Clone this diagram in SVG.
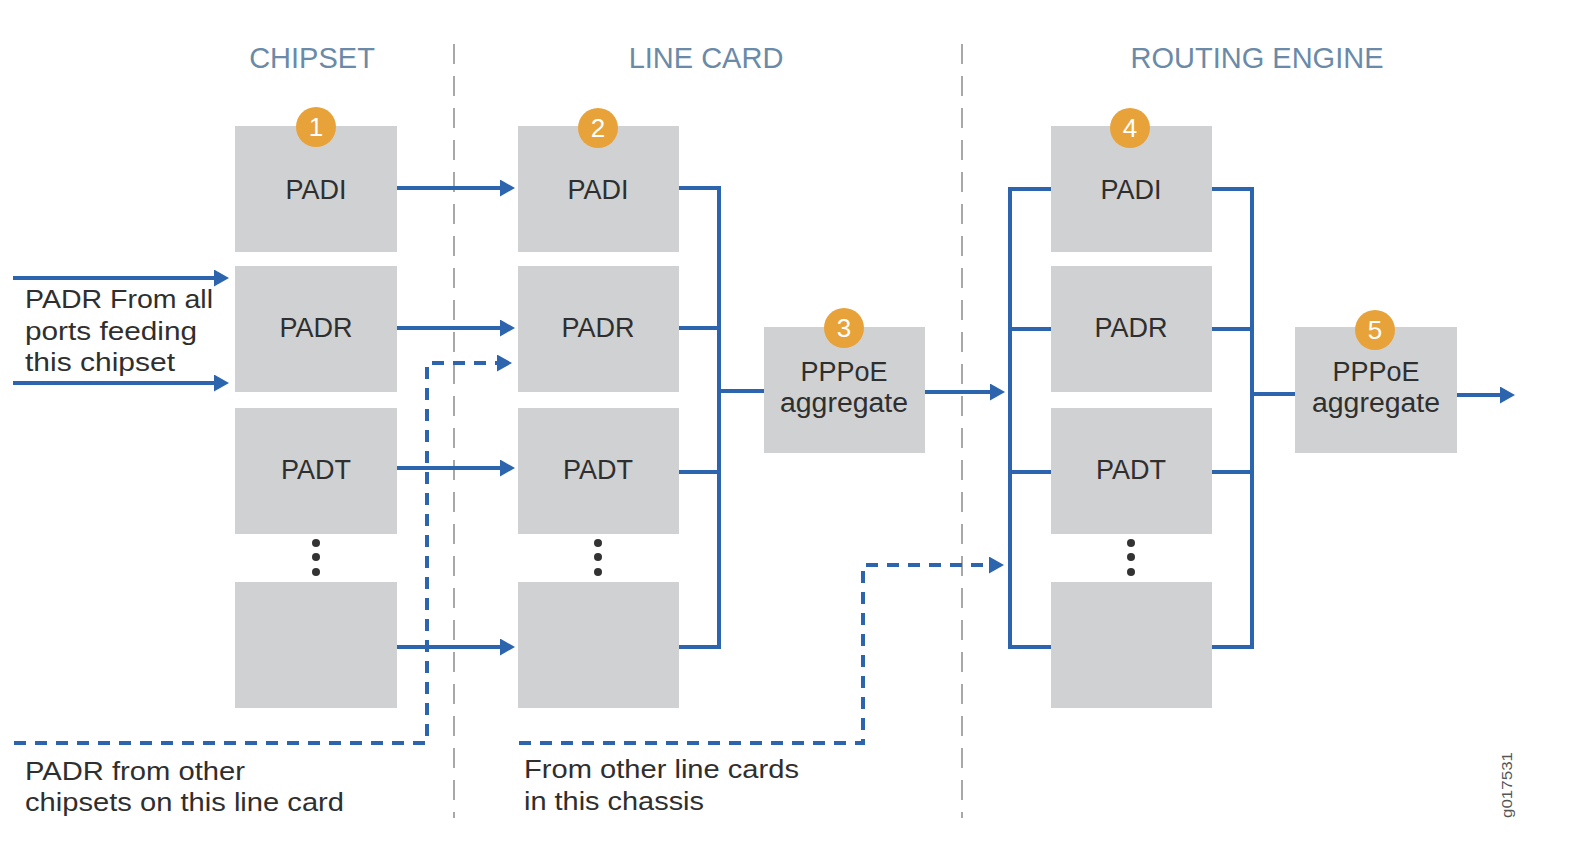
<svg xmlns="http://www.w3.org/2000/svg" width="1588" height="866" viewBox="0 0 1588 866">
<style>
.box{fill:#d0d1d3}
.lbl{font-family:"Liberation Sans",Arial,sans-serif;font-size:27px;fill:#2f2f2f;text-anchor:middle}
.hd{font-family:"Liberation Sans",Arial,sans-serif;font-size:29px;fill:#6a8aa8;text-anchor:middle}
.note{font-family:"Liberation Sans",Arial,sans-serif;font-size:26px;fill:#2f2f2f}
.badge{fill:#e8a23a}
.num{font-family:"Liberation Sans",Arial,sans-serif;font-size:26px;fill:#ffffff;text-anchor:middle}
.sep{stroke:#a8a8a8;stroke-width:2;stroke-dasharray:20 12;fill:none}
.ln{stroke:#2c65ae;stroke-width:4;fill:none}
.dot{stroke:#2c65ae;stroke-width:4;fill:none;stroke-dasharray:12 9}
.el{fill:#333}
</style>
<defs>
<marker id="ah" markerUnits="userSpaceOnUse" markerWidth="16" markerHeight="18" refX="5" refY="8.5" orient="auto">
<path d="M0,0 L15,8.5 L0,17 z" fill="#2c65ae"/>
</marker>
</defs>
<rect width="1588" height="866" fill="#ffffff"/>

<g id="separators">
<line class="sep" x1="454" y1="44" x2="454" y2="818"/>
<line class="sep" x1="962" y1="44" x2="962" y2="818"/>
</g>

<g id="headings">
<text class="hd" x="312" y="68">CHIPSET</text>
<text class="hd" x="706" y="68">LINE CARD</text>
<text class="hd" x="1257" y="68">ROUTING ENGINE</text>
</g>

<g id="connectors">
<line class="ln" x1="13" y1="278" x2="219" y2="278" marker-end="url(#ah)"/>
<line class="ln" x1="13" y1="383" x2="219" y2="383" marker-end="url(#ah)"/>
<line class="ln" x1="397" y1="188" x2="505" y2="188" marker-end="url(#ah)"/>
<line class="ln" x1="397" y1="328" x2="505" y2="328" marker-end="url(#ah)"/>
<line class="ln" x1="397" y1="468" x2="505" y2="468" marker-end="url(#ah)"/>
<line class="ln" x1="397" y1="647" x2="505" y2="647" marker-end="url(#ah)"/>
<path class="dot" d="M14,743 H427 V363 H502" marker-end="url(#ah)"/>
<path class="ln" d="M679,188 H719 V647 H679 M679,328 H719 M679,472 H719 M719,391 H764"/>
<line class="ln" x1="925" y1="392" x2="995" y2="392" marker-end="url(#ah)"/>
<path class="dot" d="M519,743 H863 V565 H994" marker-end="url(#ah)"/>
<path class="ln" d="M1051,189 H1010 V647 H1051 M1010,329 H1051 M1010,472 H1051"/>
<path class="ln" d="M1212,189 H1252 V647 H1212 M1212,329 H1252 M1212,472 H1252 M1252,394 H1295"/>
<line class="ln" x1="1457" y1="395" x2="1505" y2="395" marker-end="url(#ah)"/>
</g>

<g id="chipset-padi">
<rect class="box" x="235" y="126" width="162" height="126"/>
<text class="lbl" x="316" y="199">PADI</text>
<circle class="badge" cx="316" cy="127" r="20"/>
<text class="num" x="316" y="136">1</text>
</g>
<g id="chipset-padr">
<rect class="box" x="235" y="266" width="162" height="126"/>
<text class="lbl" x="316" y="337">PADR</text>
</g>
<g id="chipset-padt">
<rect class="box" x="235" y="408" width="162" height="126"/>
<text class="lbl" x="316" y="479">PADT</text>
</g>
<g id="chipset-dots">
<circle class="el" cx="316" cy="543" r="4"/>
<circle class="el" cx="316" cy="557" r="4"/>
<circle class="el" cx="316" cy="572" r="4"/>
</g>
<g id="chipset-blank">
<rect class="box" x="235" y="582" width="162" height="126"/>
</g>

<g id="lc-padi">
<rect class="box" x="518" y="126" width="161" height="126"/>
<text class="lbl" x="598" y="199">PADI</text>
<circle class="badge" cx="598" cy="128" r="20"/>
<text class="num" x="598" y="137">2</text>
</g>
<g id="lc-padr">
<rect class="box" x="518" y="266" width="161" height="126"/>
<text class="lbl" x="598" y="337">PADR</text>
</g>
<g id="lc-padt">
<rect class="box" x="518" y="408" width="161" height="126"/>
<text class="lbl" x="598" y="479">PADT</text>
</g>
<g id="lc-dots">
<circle class="el" cx="598" cy="543" r="4"/>
<circle class="el" cx="598" cy="557" r="4"/>
<circle class="el" cx="598" cy="572" r="4"/>
</g>
<g id="lc-blank">
<rect class="box" x="518" y="582" width="161" height="126"/>
</g>

<g id="lc-aggregate">
<rect class="box" x="764" y="327" width="161" height="126"/>
<text class="lbl" x="844" y="381">PPPoE</text>
<text class="lbl" x="844" y="412" textLength="128" lengthAdjust="spacingAndGlyphs">aggregate</text>
<circle class="badge" cx="844" cy="328" r="20"/>
<text class="num" x="844" y="337">3</text>
</g>

<g id="re-padi">
<rect class="box" x="1051" y="126" width="161" height="126"/>
<text class="lbl" x="1131" y="199">PADI</text>
<circle class="badge" cx="1130" cy="128" r="20"/>
<text class="num" x="1130" y="137">4</text>
</g>
<g id="re-padr">
<rect class="box" x="1051" y="266" width="161" height="126"/>
<text class="lbl" x="1131" y="337">PADR</text>
</g>
<g id="re-padt">
<rect class="box" x="1051" y="408" width="161" height="126"/>
<text class="lbl" x="1131" y="479">PADT</text>
</g>
<g id="re-dots">
<circle class="el" cx="1131" cy="543" r="4"/>
<circle class="el" cx="1131" cy="557" r="4"/>
<circle class="el" cx="1131" cy="572" r="4"/>
</g>
<g id="re-blank">
<rect class="box" x="1051" y="582" width="161" height="126"/>
</g>

<g id="re-aggregate">
<rect class="box" x="1295" y="327" width="162" height="126"/>
<text class="lbl" x="1376" y="381">PPPoE</text>
<text class="lbl" x="1376" y="412" textLength="128" lengthAdjust="spacingAndGlyphs">aggregate</text>
<circle class="badge" cx="1375" cy="330" r="20"/>
<text class="num" x="1375" y="339">5</text>
</g>

<g id="notes">
<text class="note" x="25" y="308" textLength="188" lengthAdjust="spacingAndGlyphs">PADR From all</text>
<text class="note" x="25" y="340" textLength="172" lengthAdjust="spacingAndGlyphs">ports feeding</text>
<text class="note" x="25" y="371" textLength="150" lengthAdjust="spacingAndGlyphs">this chipset</text>
<text class="note" x="25" y="780" textLength="220" lengthAdjust="spacingAndGlyphs">PADR from other</text>
<text class="note" x="25" y="811" textLength="319" lengthAdjust="spacingAndGlyphs">chipsets on this line card</text>
<text class="note" x="524" y="778" textLength="275" lengthAdjust="spacingAndGlyphs">From other line cards</text>
<text class="note" x="524" y="810" textLength="180" lengthAdjust="spacingAndGlyphs">in this chassis</text>
<text font-family="Liberation Sans, Arial, sans-serif" font-size="15" fill="#555" transform="translate(1512,818) rotate(-90)" textLength="66" lengthAdjust="spacingAndGlyphs">g017531</text>
</g>
</svg>
